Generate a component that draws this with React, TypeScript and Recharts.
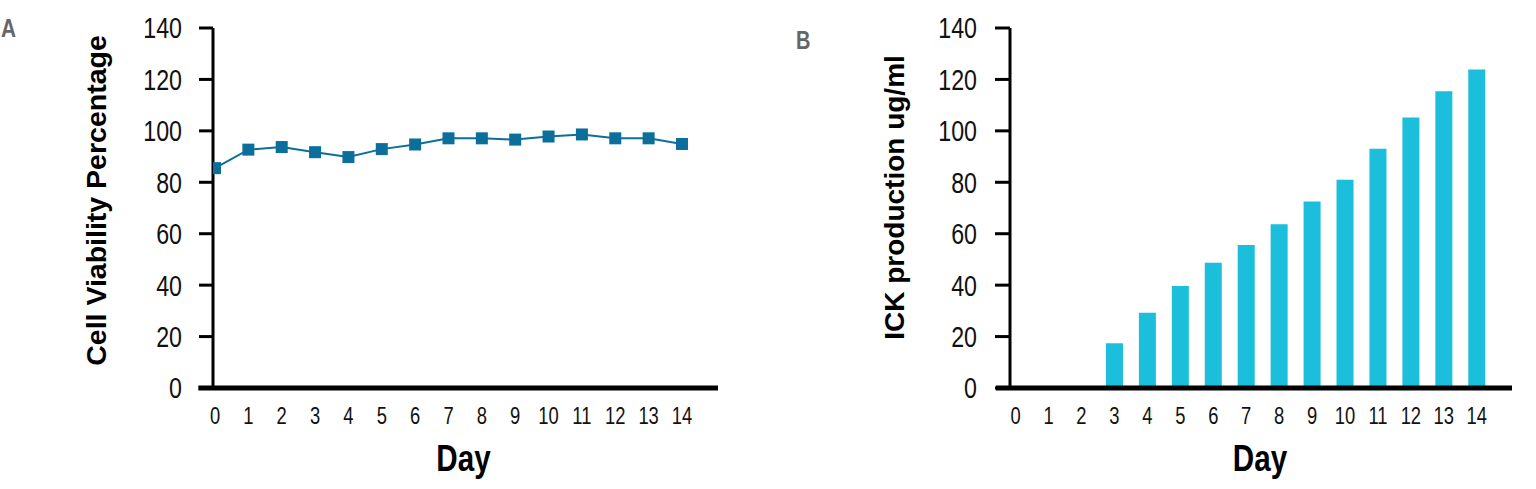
import React from 'react'
import { LineChart, Line, BarChart, Bar, XAxis, YAxis, ReferenceLine } from 'recharts'

const days = [0, 1, 2, 3, 4, 5, 6, 7, 8, 9, 10, 11, 12, 13, 14]
const viability = [85.5, 92.7, 93.7, 91.7, 89.8, 92.9, 94.7, 97.1, 97.1, 96.6, 97.8, 98.6, 97.1, 97.1, 94.9]
const ickProduction = [0, 0, 0, 17.4, 29.3, 39.7, 48.7, 55.6, 63.7, 72.5, 81, 93, 105.2, 115.4, 123.9]
const yTicks = [0, 20, 40, 60, 80, 100, 120, 140]

const viabilityData = days.map((day, i) => ({ day, value: viability[i] }))
const ickData = days.map((day, i) => ({ day, value: ickProduction[i] }))

const FONT = "'Liberation Sans', Arial, sans-serif"

// the reference uses a condensed face, so squeeze Liberation Sans horizontally
const YTick = (props: any) => {
  const { x, y, payload } = props
  return (
    <text transform={`translate(${x},${y}) scale(0.8,1)`} textAnchor="end" dy="0.36em" fontFamily={FONT} fontSize={29} fill="#111">
      {payload.value}
    </text>
  )
}

const XTick = (props: any) => {
  const { x, y, payload } = props
  return (
    <text transform={`translate(${x},${y}) scale(0.8,1)`} textAnchor="middle" dy="0.71em" fontFamily={FONT} fontSize={23} fill="#111">
      {payload.value}
    </text>
  )
}

const dayLabel = (dx: number) => (props: any) => {
  const { x, y, width } = props.viewBox
  return (
    <text transform={`translate(${x + width / 2 + dx},${y + 70}) scale(0.8,1)`} textAnchor="middle" dy="0.355em" fontFamily={FONT} fontWeight={700} fontSize={37} fill="#000">
      Day
    </text>
  )
}

const SquareDot = (props: any) => {
  const { cx, cy, index } = props
  return <rect key={`dot-${index}`} x={cx - 6} y={cy - 6} width={12} height={12} fill="#0b6e9b" />
}

export default function App() {
  return (
    <div style={{ position: 'absolute', left: 0, top: 0, width: 1536, height: 489, background: '#fff' }}>
      <div style={{ position: 'absolute', left: 0, top: 0 }}>
        <LineChart width={740} height={489} data={viabilityData} margin={{ top: 28, right: 22, bottom: 0, left: 0 }}>
          <XAxis
            dataKey="day"
            type="number"
            domain={[-0.06, 15.08]}
            ticks={days}
            allowDataOverflow
            axisLine={false}
            tickLine={false}
            tickSize={0}
            tickMargin={20}
            height={101}
            tick={XTick}
            label={{ content: dayLabel(-2) }}
          />
          <YAxis
            type="number"
            domain={[0, 140]}
            ticks={yTicks}
            width={213}
            axisLine={{ stroke: '#000', strokeWidth: 3 }}
            tickLine={{ stroke: '#000', strokeWidth: 3 }}
            tickSize={14}
            tickMargin={17}
            tick={YTick}
            label={{ value: 'Cell Viability Percentage', angle: -90, position: 'center', dx: -10.5, dy: -7.5, style: { fontFamily: FONT, fontWeight: 700, fontSize: 28.5, fill: '#000' } }}
          />
          <ReferenceLine
            segment={[{ x: -0.5, y: 0 }, { x: 15.08, y: 0 }]}
            stroke="#000"
            strokeWidth={5}
            ifOverflow="visible"
          />
          <Line
            dataKey="value"
            stroke="#0b6e9b"
            strokeWidth={2}
            dot={SquareDot}
            activeDot={false}
            isAnimationActive={false}
          />
        </LineChart>
      </div>
      <div style={{ position: 'absolute', left: 780, top: 0 }}>
        <BarChart width={756} height={489} data={ickData} margin={{ top: 28, right: 24, bottom: 0, left: 0 }}>
          <XAxis
            dataKey="day"
            type="number"
            domain={[-0.17, 15.07]}
            ticks={days}
            allowDataOverflow
            axisLine={false}
            tickLine={false}
            tickSize={0}
            tickMargin={20}
            height={101}
            tick={XTick}
            label={{ content: dayLabel(-1) }}
          />
          <YAxis
            type="number"
            domain={[0, 140]}
            ticks={yTicks}
            width={230}
            axisLine={{ stroke: '#000', strokeWidth: 3 }}
            tickLine={{ stroke: '#000', strokeWidth: 3 }}
            tickSize={15}
            tickMargin={18}
            tick={YTick}
            label={{ value: 'ICK production ug/ml', angle: -90, position: 'center', dx: -1, dy: -10.5, style: { fontFamily: FONT, fontWeight: 700, fontSize: 28, fill: '#000' } }}
          />
          <Bar dataKey="value" fill="#1bbedb" barSize={17} isAnimationActive={false} />
          <ReferenceLine
            segment={[{ x: -0.6, y: 0 }, { x: 15.07, y: 0 }]}
            stroke="#000"
            strokeWidth={5}
            ifOverflow="visible"
          />
        </BarChart>
      </div>
      <svg width={1536} height={489} style={{ position: 'absolute', left: 0, top: 0, pointerEvents: 'none' }}>
        <text transform="translate(1,37) scale(0.8,1)" fontFamily={FONT} fontWeight={700} fontSize={26} fill="#666">A</text>
        <text transform="translate(796,49) scale(0.8,1)" fontFamily={FONT} fontWeight={700} fontSize={25} fill="#666">B</text>
      </svg>
    </div>
  )
}
